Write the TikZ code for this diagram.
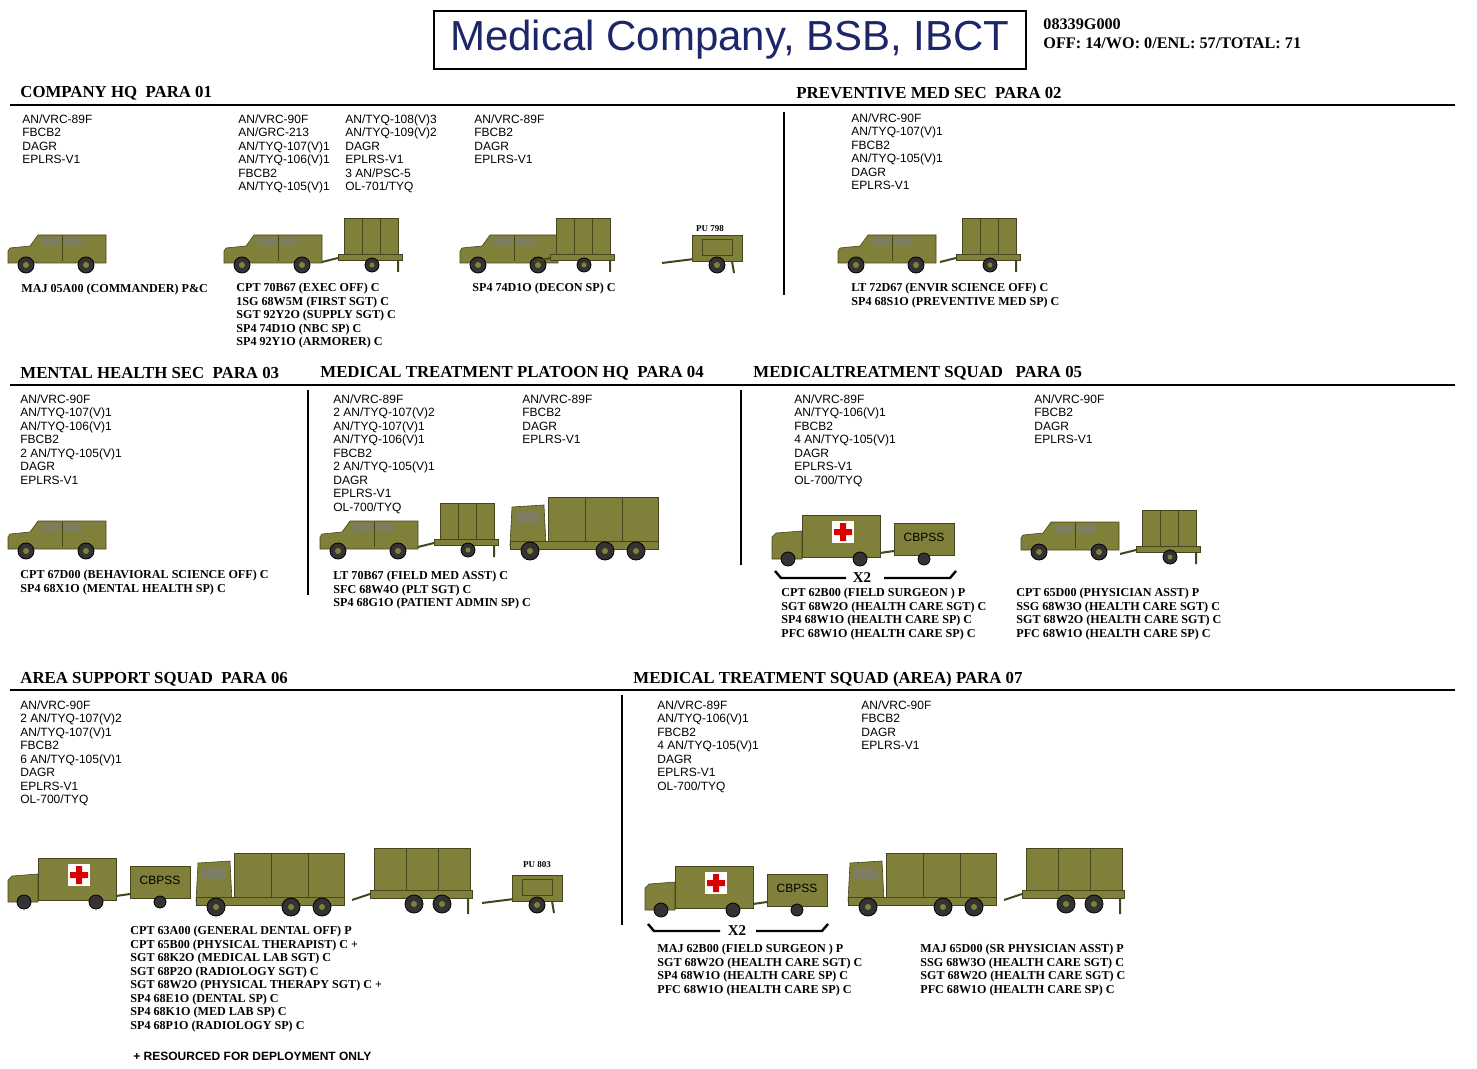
\documentclass[tikz,border=0pt]{standalone}
\usepackage{fontspec}
\setmainfont{Liberation Serif}
\setsansfont{Liberation Sans}
\begin{document}
\begin{tikzpicture}[x=0.5pt,y=-0.5pt,
  eq/.style={anchor=north west,inner sep=0pt,align=left,font=\sffamily\fontsize{6}{6.75}\selectfont},
  pers/.style={anchor=north west,inner sep=0pt,align=left,font=\bfseries\fontsize{6.05}{6.75}\selectfont},
  hdr/.style={anchor=west,inner sep=0pt,font=\bfseries\fontsize{8.4}{9}\selectfont},
  rule/.style={line width=0.7pt},
  div/.style={line width=0.6pt},
  olv/.style={fill=olivebody,draw=olivedark,line width=0.3pt},
  wheel/.style={fill=black!80,draw=black},
  humvee/.pic={
    \draw[olv] (0,16)--(2,13)--(22,11)--(30,0)--(98,0)--(98,28)--(0,28)--cycle;
    \fill[olivedark!70] (34,3) rectangle (52,11) (56,3) rectangle (74,11);
    \draw[olivedark] (54,0)--(54,26);
    \draw[wheel] (18,30) circle (8); \draw[wheel] (78,30) circle (8);
    \fill[olivebody] (18,30) circle (3) (78,30) circle (3);},
  trailer/.pic={
    \draw[olv] (12,0) rectangle (66,36);
    \draw[olivedark] (30,0)--(30,36) (48,0)--(48,36);
    \draw[olv] (6,36) rectangle (70,42);
    \draw[olivedark,line width=1pt] (6,40)--(-10,44) (66,42)--(66,54);
    \draw[wheel] (40,47) circle (7); \fill[olivebody] (40,47) circle (2.5);},
  bigtrailer/.pic={
    \draw[olv] (10,0) rectangle (106,42);
    \draw[olivedark] (42,0)--(42,42) (74,0)--(74,42);
    \draw[olv] (6,42) rectangle (108,50);
    \draw[olivedark,line width=1pt] (6,46)--(-12,52) (104,50)--(104,66);
    \draw[wheel] (50,56) circle (9); \fill[olivebody] (50,56) circle (3);
    \draw[wheel] (78,56) circle (9); \fill[olivebody] (78,56) circle (3);},
  truck/.pic={
    \draw[olv] (38,0) rectangle (148,44);
    \draw[olivedark] (75,0)--(75,44) (112,0)--(112,44);
    \draw[olv] (2,10)--(34,8)--(36,48)--(0,48)--cycle;
    \fill[olivedark!70] (6,14) rectangle (30,26);
    \draw[olv] (0,44) rectangle (148,52);
    \foreach \w in {20,95,126}{\draw[wheel] (\w,54) circle (9); \fill[olivebody] (\w,54) circle (3);}},
  ambul/.pic={
    \draw[olv] (0,22)--(4,18)--(30,16)--(30,44)--(0,44)--cycle;
    \draw[olv] (30,0) rectangle (108,42);
    \fill[white] (60,6) rectangle (82,28);
    \fill[red!85!black] (68,8) rectangle (74,26) (62,14) rectangle (80,20);
    \draw[wheel] (16,44) circle (7); \draw[wheel] (88,44) circle (7);
    \draw[olivedark,line width=1pt] (108,38)--(122,36);
    \draw[olv] (122,8) rectangle (182,40);
    \node[font=\sffamily\fontsize{6}{7}\selectfont,text=black] at (152,22) {CBPSS};
    \draw[wheel] (152,44) circle (6);},
  genset/.pic={
    \draw[olivedark,line width=1pt] (0,38)--(32,34) (70,36)--(72,48);
    \draw[olv] (30,10) rectangle (80,36);
    \draw[olivedark] (40,14) rectangle (70,30);
    \draw[wheel] (55,40) circle (8); \fill[olivebody] (55,40) circle (3);}
]
\definecolor{olivebody}{RGB}{128,128,58}
\definecolor{olivedark}{RGB}{70,70,30}
\definecolor{navy}{RGB}{28,38,105}
\useasboundingbox (0,0) rectangle (1477,1069);
\fill[white] (0,0) rectangle (1477,1069);
% title
\node[draw,line width=1pt,minimum width=296pt,minimum height=29pt,anchor=north west,inner sep=0pt,
  font=\sffamily\fontsize{21}{24}\selectfont,text=navy] (title) at (433,10) {Medical Company, BSB, IBCT};
\node[anchor=north west,inner sep=0pt,align=left,font=\bfseries\fontsize{8.1}{9.5}\selectfont] (uic) at (1043,18) {08339G000\\OFF: 14/WO: 0/ENL: 57/TOTAL: 71};
% headers and rules
\node[hdr] (h1) at (20,93) {COMPANY HQ\ \ PARA 01};
\node[hdr] (h2) at (796,93) {PREVENTIVE MED SEC\ \ PARA 02};
\draw[rule] (10,105)--(1455,105);
\draw[div] (784,112)--(784,295);
\node[hdr] (h3) at (20,373) {MENTAL HEALTH SEC\ \ PARA 03};
\node[hdr] (h4) at (320,373) {MEDICAL TREATMENT PLATOON HQ\ \ PARA 04};
\node[hdr] (h5) at (753,373) {MEDICALTREATMENT SQUAD\ \ \ PARA 05};
\draw[rule] (10,385)--(1455,385);
\draw[div] (308,390)--(308,595);
\draw[div] (741,390)--(741,565);
\node[hdr] (h6) at (20,679) {AREA SUPPORT SQUAD\ \ PARA 06};
\node[hdr] (h7) at (633,679) {MEDICAL TREATMENT SQUAD (AREA) PARA 07};
\draw[rule] (10,690)--(1455,690);
\draw[div] (622,695)--(622,925);
% row 1 equipment
\node[eq] (e1) at (22,114) {AN/VRC-89F\\FBCB2\\DAGR\\EPLRS-V1};
\node[eq] (e2) at (238,114) {AN/VRC-90F\\AN/GRC-213\\AN/TYQ-107(V)1\\AN/TYQ-106(V)1\\FBCB2\\AN/TYQ-105(V)1};
\node[eq] (e3) at (345,114) {AN/TYQ-108(V)3\\AN/TYQ-109(V)2\\DAGR\\EPLRS-V1\\3 AN/PSC-5\\OL-701/TYQ};
\node[eq] (e4) at (474,114) {AN/VRC-89F\\FBCB2\\DAGR\\EPLRS-V1};
\node[eq] (e5) at (851,113) {AN/VRC-90F\\AN/TYQ-107(V)1\\FBCB2\\AN/TYQ-105(V)1\\DAGR\\EPLRS-V1};
% row 1 vehicles
\pic at (8,235) {humvee};
\pic at (224,235) {humvee}; \pic at (332,218) {trailer};
\pic at (460,235) {humvee}; \pic at (544,218) {trailer};
\pic at (662,225) {genset};
\node[font=\bfseries\fontsize{4.5}{5}\selectfont,inner sep=0pt] (pu1) at (710,229) {PU 798};
\pic at (838,235) {humvee}; \pic at (950,218) {trailer};
% row 1 personnel
\node[pers] (p1) at (21,284) {MAJ 05A00 (COMMANDER) P\&C};
\node[pers] (p2) at (236,283) {CPT 70B67 (EXEC OFF) C\\1SG 68W5M (FIRST SGT) C\\SGT 92Y2O (SUPPLY SGT) C\\SP4 74D1O (NBC SP) C\\SP4 92Y1O (ARMORER) C};
\node[pers] (p3) at (472,283) {SP4 74D1O (DECON SP) C};
\node[pers] (p4) at (851,283) {LT 72D67 (ENVIR SCIENCE OFF) C\\SP4 68S1O (PREVENTIVE MED SP) C};
% row 2 equipment
\node[eq] (e6) at (20,394) {AN/VRC-90F\\AN/TYQ-107(V)1\\AN/TYQ-106(V)1\\FBCB2\\2 AN/TYQ-105(V)1\\DAGR\\EPLRS-V1};
\node[eq] (e7) at (333,394) {AN/VRC-89F\\2 AN/TYQ-107(V)2\\AN/TYQ-107(V)1\\AN/TYQ-106(V)1\\FBCB2\\2 AN/TYQ-105(V)1\\DAGR\\EPLRS-V1\\OL-700/TYQ};
\node[eq] (e8) at (522,394) {AN/VRC-89F\\FBCB2\\DAGR\\EPLRS-V1};
\node[eq] (e9) at (794,394) {AN/VRC-89F\\AN/TYQ-106(V)1\\FBCB2\\4 AN/TYQ-105(V)1\\DAGR\\EPLRS-V1\\OL-700/TYQ};
\node[eq] (e10) at (1034,394) {AN/VRC-90F\\FBCB2\\DAGR\\EPLRS-V1};
% row 2 vehicles
\pic at (8,521) {humvee};
\pic at (320,521) {humvee}; \pic at (428,503) {trailer};
\pic at (510,497) {truck};
\pic at (772,515) {ambul};
\draw[line width=1.2pt] (775,571)--(781,578)--(846,578) (884,578)--(950,578)--(956,571);
\node[font=\bfseries\fontsize{7.5}{9}\selectfont,inner sep=0pt] (x1) at (862,578) {X2};
\pic at (1021,522) {humvee}; \pic at (1130,510) {trailer};
% row 2 personnel
\node[pers] (p5) at (20,570) {CPT 67D00 (BEHAVIORAL SCIENCE OFF) C\\SP4 68X1O (MENTAL HEALTH SP) C};
\node[pers] (p6) at (333,571) {LT 70B67 (FIELD MED ASST) C\\SFC 68W4O (PLT SGT) C\\SP4 68G1O (PATIENT ADMIN SP) C};
\node[pers] (p7) at (781,588) {CPT 62B00 (FIELD SURGEON ) P\\SGT 68W2O (HEALTH CARE SGT) C\\SP4 68W1O (HEALTH CARE SP) C\\PFC 68W1O (HEALTH CARE SP) C};
\node[pers] (p8) at (1016,588) {CPT 65D00 (PHYSICIAN ASST) P\\SSG 68W3O (HEALTH CARE SGT) C\\SGT 68W2O (HEALTH CARE SGT) C\\PFC 68W1O (HEALTH CARE SP) C};
% row 3 equipment
\node[eq] (e11) at (20,700) {AN/VRC-90F\\2 AN/TYQ-107(V)2\\AN/TYQ-107(V)1\\FBCB2\\6 AN/TYQ-105(V)1\\DAGR\\EPLRS-V1\\OL-700/TYQ};
\node[eq] (e12) at (657,700) {AN/VRC-89F\\AN/TYQ-106(V)1\\FBCB2\\4 AN/TYQ-105(V)1\\DAGR\\EPLRS-V1\\OL-700/TYQ};
\node[eq] (e13) at (861,700) {AN/VRC-90F\\FBCB2\\DAGR\\EPLRS-V1};
% row 3 vehicles
\pic at (8,858) {ambul};
\pic at (196,853) {truck};
\pic at (364,848) {bigtrailer};
\pic at (482,865) {genset};
\node[font=\bfseries\fontsize{4.5}{5}\selectfont,inner sep=0pt] (pu2) at (537,865) {PU 803};
\pic at (645,866) {ambul};
\draw[line width=1.2pt] (648,924)--(654,931)--(720,931) (756,931)--(822,931)--(828,924);
\node[font=\bfseries\fontsize{7.5}{9}\selectfont,inner sep=0pt] (x2) at (737,931) {X2};
\pic at (848,853) {truck};
\pic at (1016,848) {bigtrailer};
% row 3 personnel
\node[pers] (p9) at (130,926) {CPT 63A00 (GENERAL DENTAL OFF) P\\CPT 65B00 (PHYSICAL THERAPIST) C +\\SGT 68K2O (MEDICAL LAB SGT) C\\SGT 68P2O (RADIOLOGY SGT) C\\SGT 68W2O (PHYSICAL THERAPY SGT) C +\\SP4 68E1O (DENTAL SP) C\\SP4 68K1O (MED LAB SP) C\\SP4 68P1O (RADIOLOGY SP) C};
\node[pers] (p10) at (657,944) {MAJ 62B00 (FIELD SURGEON ) P\\SGT 68W2O (HEALTH CARE SGT) C\\SP4 68W1O (HEALTH CARE SP) C\\PFC 68W1O (HEALTH CARE SP) C};
\node[pers] (p11) at (920,944) {MAJ 65D00 (SR PHYSICIAN ASST) P\\SSG 68W3O (HEALTH CARE SGT) C\\SGT 68W2O (HEALTH CARE SGT) C\\PFC 68W1O (HEALTH CARE SP) C};
\node[anchor=west,inner sep=0pt,font=\sffamily\bfseries\fontsize{6}{7}\selectfont] (note) at (133,1056) {+ RESOURCED FOR DEPLOYMENT ONLY};
\end{tikzpicture}
\end{document}
